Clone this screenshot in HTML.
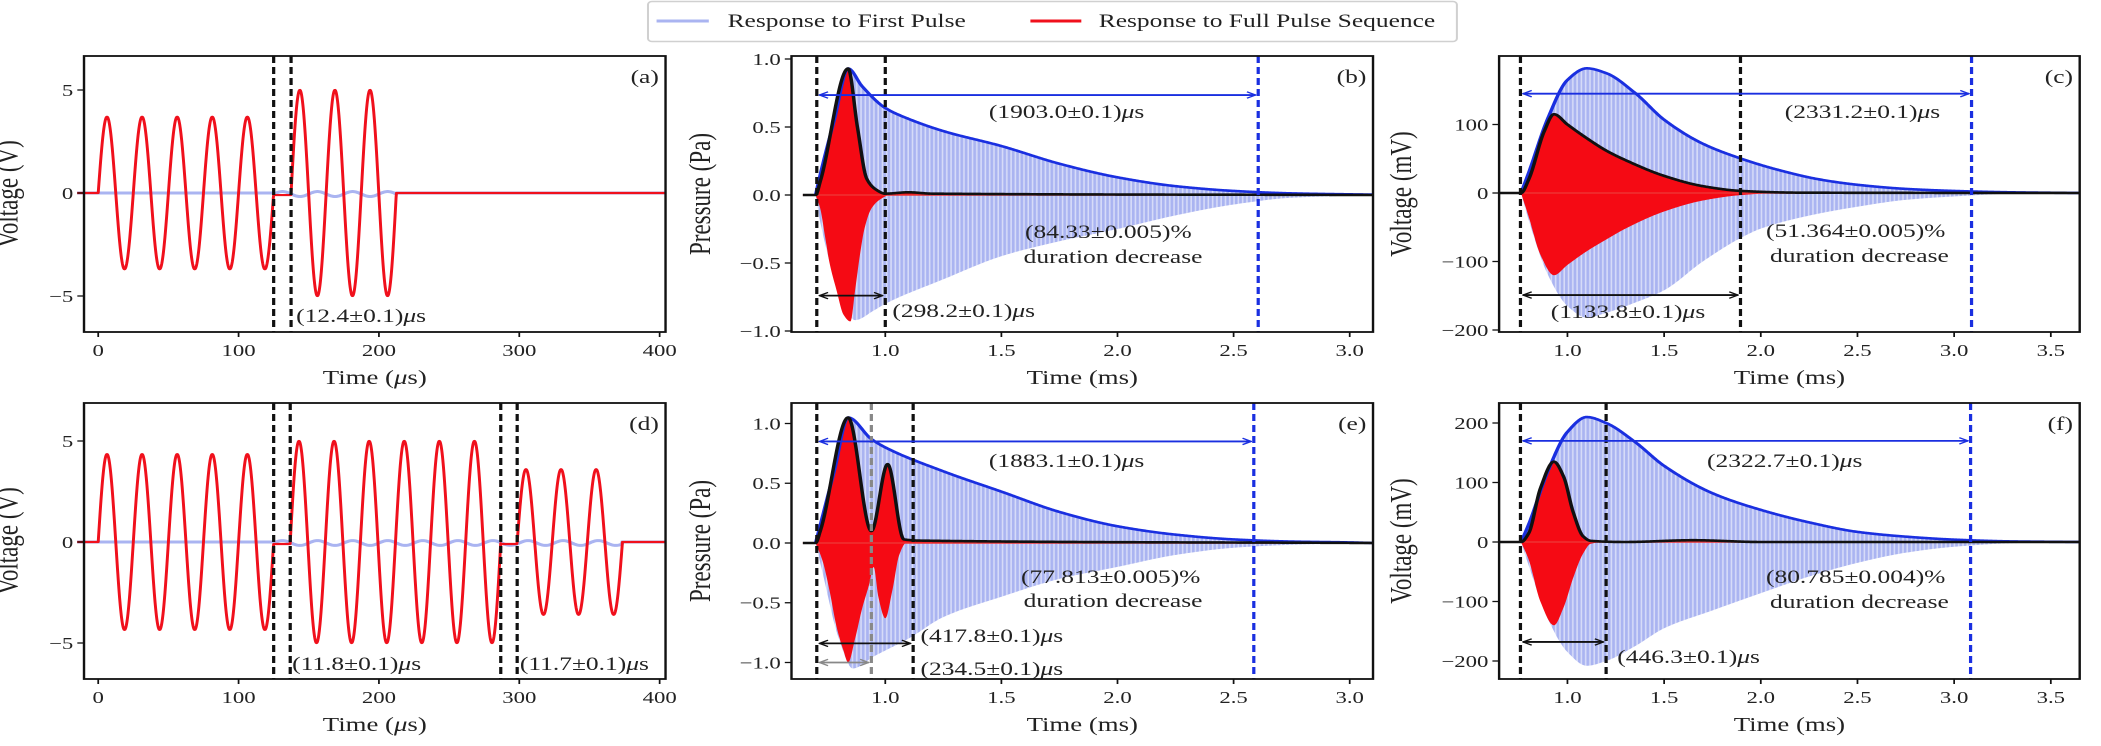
<!DOCTYPE html>
<html><head><meta charset="utf-8"><style>
html,body{margin:0;padding:0;background:#fff;}
svg{display:block;}
text{font-family:"Liberation Serif",serif;fill:#222;}
</style></head><body>
<svg id="s" width="2101" height="746" viewBox="0 0 1568 746" preserveAspectRatio="none" xmlns="http://www.w3.org/2000/svg">
<defs>
<pattern id="st" patternUnits="userSpaceOnUse" width="3.2" height="10"><rect width="3.2" height="10" fill="#d6dbf8"/><rect width="2" height="10" fill="#aab4f1"/></pattern>
<marker id="ab" viewBox="0 0 10 10" refX="9" refY="5" markerWidth="8" markerHeight="8" orient="auto-start-reverse" markerUnits="userSpaceOnUse"><path d="M1,1 L9,5 L1,9" fill="none" stroke="#1a2fe0" stroke-width="1.6"/></marker>
<marker id="ak" viewBox="0 0 10 10" refX="9" refY="5" markerWidth="8" markerHeight="8" orient="auto-start-reverse" markerUnits="userSpaceOnUse"><path d="M1,1 L9,5 L1,9" fill="none" stroke="#111" stroke-width="1.6"/></marker>
<marker id="ag" viewBox="0 0 10 10" refX="9" refY="5" markerWidth="8" markerHeight="8" orient="auto-start-reverse" markerUnits="userSpaceOnUse"><path d="M1,1 L9,5 L1,9" fill="none" stroke="#888" stroke-width="1.6"/></marker>
</defs>
<g id="g"></g>
</svg>
<script>
var out=[];
function P(s){out.push(s);}
// monotone cubic interpolation
var cache=new Map();
function prep(pts){if(cache.has(pts))return cache.get(pts);var n=pts.length,d=[],m=[];for(var i=0;i<n-1;i++)d.push((pts[i+1][1]-pts[i][1])/(pts[i+1][0]-pts[i][0]));m[0]=d[0];m[n-1]=d[n-2];for(var i=1;i<n-1;i++){if(d[i-1]*d[i]<=0)m[i]=0;else{var h0=pts[i][0]-pts[i-1][0],h1=pts[i+1][0]-pts[i][0];var w1=2*h1+h0,w2=h1+2*h0;m[i]=(w1+w2)/(w1/d[i-1]+w2/d[i]);}}var r={m:m};cache.set(pts,r);return r;}
function interp(pts,t){if(t<=pts[0][0])return pts[0][1];var n=pts.length;if(t>=pts[n-1][0])return pts[n-1][1];var m=prep(pts).m;for(var i=1;i<n;i++){if(t<=pts[i][0]){var a=pts[i-1],b=pts[i],h=b[0]-a[0],s=(t-a[0])/h;var h00=2*s*s*s-3*s*s+1,h10=s*s*s-2*s*s+s,h01=-2*s*s*s+3*s*s,h11=s*s*s-s*s;return h00*a[1]+h10*h*m[i-1]+h01*b[1]+h11*h*m[i];}}return pts[n-1][1];}
function curve(pts,X,Y,t0,t1,dt){var s=[];for(var t=t0;t<=t1+1e-9;t+=dt){s.push(X(t).toFixed(2)+","+Y(interp(pts,t)).toFixed(2));}return s;}
function fillBetween(up,lo,X,Y,t0,t1,dt,fill){var a=curve(up,X,Y,t0,t1,dt),b=curve(lo,X,Y,t0,t1,dt).reverse();P('<polygon points="'+a.concat(b).join(" ")+'" fill="'+fill+'"/>');}
function line(pts,X,Y,t0,t1,dt,col,w){P('<polyline points="'+curve(pts,X,Y,t0,t1,dt).join(" ")+'" fill="none" stroke="'+col+'" stroke-width="'+w+'" stroke-linejoin="round"/>');}
function vd(x,y0,y1,col,w){P('<line x1="'+x+'" y1="'+y0+'" x2="'+x+'" y2="'+y1+'" stroke="'+col+'" stroke-width="'+(w||2.4)+'" stroke-dasharray="7,4"/>');}
function arrow(x0,x1,y,m,col){P('<line x1="'+x0+'" y1="'+y+'" x2="'+x1+'" y2="'+y+'" stroke="'+col+'" stroke-width="1.8" marker-start="url(#'+m+')" marker-end="url(#'+m+')"/>');}
function txt(x,y,s,anc,sz){P('<text x="'+x+'" y="'+y+'" font-size="'+(sz||19)+'" text-anchor="'+(anc||"start")+'">'+s+'</text>');}
function axes(bx0,bx1,by0,by1,X,Y,xt,yt,xlab,ylab,ylx,tag){
 P('<rect x="'+bx0+'" y="'+by0+'" width="'+(bx1-bx0)+'" height="'+(by1-by0)+'" fill="none" stroke="#111" stroke-width="1.8"/>');
 xt.forEach(function(v){var x=X(v[0]);P('<line x1="'+x+'" y1="'+by1+'" x2="'+x+'" y2="'+(by1+5)+'" stroke="#111" stroke-width="1.3"/>');txt(x,by1+24,v[1],"middle",17);});
 yt.forEach(function(v){var y=Y(v[0]);P('<line x1="'+bx0+'" y1="'+y+'" x2="'+(bx0-5)+'" y2="'+y+'" stroke="#111" stroke-width="1.3"/>');txt(bx0-8,y+6,v[1],"end",17);});
 txt((bx0+bx1)/2,by1+52,xlab,"middle",20);
 var cy=(by0+by1)/2;P('<text x="'+ylx+'" y="'+cy+'" font-size="23" text-anchor="middle" transform="rotate(-90 '+ylx+' '+cy+')">'+ylab+'</text>');
 txt(bx1-5,by0+27,tag,"end",19);
}
var M="\u2212";
function XA(t){return 73.3+1.0475*t;}
function pulsePanel(by0,by1,Y,segs,gaps,ripEnd,tag,labels){
 var s=[];for(var t=-15;t<=404;t+=0.5){var v=0;if(t>gaps[0][0]&&t<ripEnd)v=0.12*Math.sin(2*Math.PI*t/25)-0.05;s.push(XA(t).toFixed(2)+","+Y(v).toFixed(2));}
 P('<polyline points="'+s.join(" ")+'" fill="none" stroke="#aab4f1" stroke-width="3"/>');
 s=[];for(var t=-15;t<=404;t+=0.25){var v=0;segs.forEach(function(g){if(t>=g[0]&&t<g[1])v=g[2]*Math.sin(2*Math.PI*(t-g[0])/25);});gaps.forEach(function(g){if(t>=g[0]&&t<g[1])v=-0.1;});s.push(XA(t).toFixed(2)+","+Y(v).toFixed(2));}
 P('<polyline points="'+s.join(" ")+'" fill="none" stroke="#f0101c" stroke-width="2.2" stroke-linejoin="round"/>');
 gaps.forEach(function(g){vd(XA(g[0]),by0,by1,"#111");vd(XA(g[1]),by0,by1,"#111");});
 labels.forEach(function(l){txt(l[0],l[1],l[2],"start",19);});
 axes(62.7,496.7,by0,by1,XA,Y,[[0,"0"],[100,"100"],[200,"200"],[300,"300"],[400,"400"]],[[-5,M+"5"],[0,"0"],[5,"5"]],"Time (<tspan font-style=\"italic\">μ</tspan>s)","Voltage (V)",13,tag);
}
pulsePanel(56,332,function(v){return 193-20.6*v;},[[0,125,3.7],[137.4,212.4,5]],[[125,137.4]],212.4,"(a)",[[221,322,"(12.4±0.1)<tspan font-style=\"italic\">μ</tspan>s"]]);
pulsePanel(403,679,function(v){return 542-20.2*v;},[[0,125,4.35],[136.8,286.8,5],[298.5,373.5,3.6]],[[125,136.8],[286.8,298.5]],373.5,"(d)",[[218,670,"(11.8±0.1)<tspan font-style=\"italic\">μ</tspan>s"],[388,670,"(11.7±0.1)<tspan font-style=\"italic\">μ</tspan>s"]]);
var MU="<tspan font-style=\"italic\">μ</tspan>s";
function XB(t){return 660.7+173.3*(t-1);}
function XC(t){return 1169.8+144.3*(t-1);}
function respPanel(X,Y,bx0,bx1,by0,by1,tmin,tmax,up,lo,blk,rlo,vdash,arrows,texts,xt,yt,ylab,ylx,tag){
 fillBetween(up,lo,X,Y,tmin,tmax,0.004,"url(#st)");
 fillBetween(blk,rlo,X,Y,tmin,tmax,0.003,"#f50a14");
 P('<line x1="'+X(tmin)+'" y1="'+Y(0)+'" x2="'+bx1+'" y2="'+Y(0)+'" stroke="#e33" stroke-width="1.5"/>');
 line(up,X,Y,up[0][0],tmax,0.004,"#1a2fe0",2.6);
 line(blk,X,Y,tmin,tmax,0.003,"#111",2.6);
 vdash.forEach(function(d){vd(X(d[0]),by0,by1,d[1]);});
 arrows.forEach(function(a){arrow(X(a[0])+2,X(a[1])-2,Y(a[2]),a[3],a[4]);});
 texts.forEach(function(t){txt(t[0],t[1],t[2],t[3]||"start",19);});
 axes(bx0,bx1,by0,by1,X,Y,xt,yt,"Time (ms)",ylab,ylx,tag);
}
var xtB=[[1,"1.0"],[1.5,"1.5"],[2,"2.0"],[2.5,"2.5"],[3,"3.0"]];
var xtC=[[1,"1.0"],[1.5,"1.5"],[2,"2.0"],[2.5,"2.5"],[3,"3.0"],[3.5,"3.5"]];
var Yb=function(v){return 195-136*v;};
respPanel(XB,Yb,590.7,1024.7,56,332,0.645,3.1,
 [[0.70,0],[0.72,0.15],[0.78,0.55],[0.84,0.93],[0.9,0.8],[1.0,0.64],[1.1,0.56],[1.25,0.47],[1.5,0.36],[1.75,0.23],[2.0,0.13],[2.25,0.065],[2.5,0.03],[2.75,0.012],[3.0,0.005],[3.1,0.003]],
 [[0.70,0],[0.72,-0.2],[0.8,-0.7],[0.87,-0.92],[0.95,-0.85],[1.0,-0.8],[1.25,-0.62],[1.5,-0.45],[1.75,-0.34],[2.0,-0.25],[2.25,-0.15],[2.5,-0.07],[2.75,-0.02],[3.0,-0.005],[3.1,0]],
 [[0.645,0],[0.70,0],[0.72,0.1],[0.84,0.93],[0.88,0.5],[0.92,0.12],[0.96,0.04],[1.0,0.01],[1.1,0.02],[1.2,0.01],[3.1,0]],
 [[0.70,0],[0.72,-0.1],[0.74,-0.3],[0.76,-0.5],[0.79,-0.7],[0.82,-0.88],[0.85,-0.93],[0.87,-0.7],[0.89,-0.45],[0.91,-0.25],[0.94,-0.1],[0.98,-0.03],[1.02,0],[3.1,0]],
 [[0.705,"#111"],[1.0,"#111"],[2.606,"#1a2fe0"]],
 [[0.705,2.606,0.735,"ab","#1a2fe0"],[0.705,1.0,-0.74,"ak","#111"]],
 [[796,118,"(1903.0±0.1)"+MU,"middle"],[765,238,"(84.33±0.005)%"],[764,263,"duration decrease"],[666,317,"(298.2±0.1)"+MU]],
 xtB,[[-1,M+"1.0"],[-0.5,M+"0.5"],[0,"0.0"],[0.5,"0.5"],[1,"1.0"]],"Pressure (Pa)",530,"(b)");
var Ye=function(v){return 543-119.5*v;};
respPanel(XB,Ye,590.7,1024.7,403,679,0.645,3.1,
 [[0.70,0],[0.72,0.15],[0.78,0.6],[0.84,1.05],[0.94,0.87],[1.0,0.8],[1.25,0.6],[1.5,0.43],[1.75,0.26],[2.0,0.14],[2.25,0.07],[2.5,0.03],[2.75,0.012],[3.0,0.005],[3.1,0]],
 [[0.70,0],[0.73,-0.25],[0.8,-0.8],[0.86,-1.05],[0.95,-0.95],[1.1,-0.8],[1.25,-0.62],[1.5,-0.45],[1.75,-0.3],[2.0,-0.2],[2.25,-0.1],[2.5,-0.04],[2.75,-0.015],[3.1,0]],
 [[0.645,0],[0.70,0],[0.72,0.1],[0.84,1.05],[0.94,0.1],[1.01,0.66],[1.08,0.03],[1.15,0.02],[3.1,0]],
 [[0.70,0],[0.73,-0.15],[0.76,-0.4],[0.79,-0.7],[0.82,-0.9],[0.84,-1.0],[0.87,-0.8],[0.9,-0.55],[0.93,-0.35],[0.95,-0.2],[0.97,-0.45],[1.0,-0.63],[1.03,-0.4],[1.06,-0.1],[1.09,0],[3.1,0]],
 [[0.705,"#111"],[0.94,"#888"],[1.12,"#111"],[2.587,"#1a2fe0"]],
 [[0.705,2.587,0.85,"ab","#1a2fe0"],[0.705,1.12,-0.84,"ak","#111"],[0.705,0.94,-1.0,"ag","#888"]],
 [[796,467,"(1883.1±0.1)"+MU,"middle"],[762,583,"(77.813±0.005)%"],[764,607,"duration decrease"],[687,642,"(417.8±0.1)"+MU],[687,675,"(234.5±0.1)"+MU]],
 xtB,[[-1,M+"1.0"],[-0.5,M+"0.5"],[0,"0.0"],[0.5,"0.5"],[1,"1.0"]],"Pressure (Pa)",530,"(e)");
var Yc=function(v){return 193-0.685*v;};
respPanel(XC,Yc,1118.8,1552.1,56,332,0.647,3.65,
 [[0.76,0],[0.8,30],[0.9,110],[1.0,165],[1.1,182],[1.2,175],[1.35,146],[1.5,107],[1.7,72],[1.9,50],[2.1,33],[2.3,20],[2.5,12],[2.75,6],[3.0,3],[3.3,1],[3.65,0]],
 [[0.76,0],[0.8,-40],[0.9,-120],[1.0,-165],[1.1,-182],[1.2,-175],[1.35,-160],[1.5,-142],[1.7,-100],[1.9,-65],[2.0,-52],[2.25,-33],[2.5,-20],[2.75,-10],[3.0,-5],[3.3,-1],[3.65,0]],
 [[0.647,0],[0.76,0],[0.8,20],[0.88,90],[0.93,115],[1.0,100],[1.1,80],[1.2,62],[1.3,48],[1.5,25],[1.7,10],[1.9,3],[2.2,0.5],[3.65,0]],
 [[0.76,0],[0.8,-35],[0.86,-90],[0.93,-120],[1.0,-105],[1.1,-85],[1.2,-68],[1.3,-52],[1.5,-27],[1.7,-11],[1.9,-3],[2.1,0],[3.65,0]],
 [[0.757,"#111"],[1.895,"#111"],[3.09,"#1a2fe0"]],
 [[0.757,3.09,145,"ab","#1a2fe0"],[0.757,1.895,-149,"ak","#111"]],
 [[1390,118,"(2331.2±0.1)"+MU,"middle"],[1318,237,"(51.364±0.005)%"],[1321,262,"duration decrease"],[1215,318,"(1133.8±0.1)"+MU,"middle"]],
 xtC,[[-200,M+"200"],[-100,M+"100"],[0,"0"],[100,"100"]],"Voltage (mV)",1053,"(c)");
var Yf=function(v){return 542-0.595*v;};
respPanel(XC,Yf,1118.8,1552.1,403,679,0.647,3.65,
 [[0.76,0],[0.8,30],[0.9,120],[1.0,185],[1.1,210],[1.2,200],[1.35,168],[1.5,128],[1.75,82],[2.0,54],[2.25,33],[2.5,17],[2.75,9],[3.0,4],[3.3,1],[3.65,0]],
 [[0.76,0],[0.8,-40],[0.9,-130],[1.0,-185],[1.1,-208],[1.2,-200],[1.35,-175],[1.5,-145],[1.75,-115],[2.0,-86],[2.25,-58],[2.5,-35],[2.75,-18],[3.0,-8],[3.3,-2],[3.65,0]],
 [[0.647,0],[0.76,0],[0.8,15],[0.86,90],[0.93,135],[0.98,110],[1.03,50],[1.08,10],[1.12,2],[1.3,0],[1.65,3],[2.0,0],[3.65,0]],
 [[0.76,0],[0.8,-30],[0.86,-100],[0.93,-140],[0.98,-110],[1.03,-60],[1.08,-20],[1.12,-3],[1.2,0],[3.65,0]],
 [[0.757,"#111"],[1.2,"#111"],[3.085,"#1a2fe0"]],
 [[0.757,3.085,170,"ab","#1a2fe0"],[0.757,1.2,-168,"ak","#111"]],
 [[1332,467,"(2322.7±0.1)"+MU,"middle"],[1318,583,"(80.785±0.004)%"],[1321,608,"duration decrease"],[1207,663,"(446.3±0.1)"+MU]],
 xtC,[[-200,M+"200"],[-100,M+"100"],[0,"0"],[100,"100"],[200,"200"]],"Voltage (mV)",1053,"(f)");
P('<rect x="483.6" y="1.5" width="603.7" height="40" rx="3" fill="#fff" stroke="#d0d0d0" stroke-width="1.5"/>');
P('<line x1="490" y1="21" x2="529" y2="21" stroke="#aab4f1" stroke-width="3"/>');
txt(543,27,"Response to First Pulse","start",19);
P('<line x1="769" y1="21" x2="807" y2="21" stroke="#f0101c" stroke-width="3"/>');
txt(820,27,"Response to Full Pulse Sequence","start",19);
document.getElementById("g").innerHTML=out.join("");
</script>
</body></html>
